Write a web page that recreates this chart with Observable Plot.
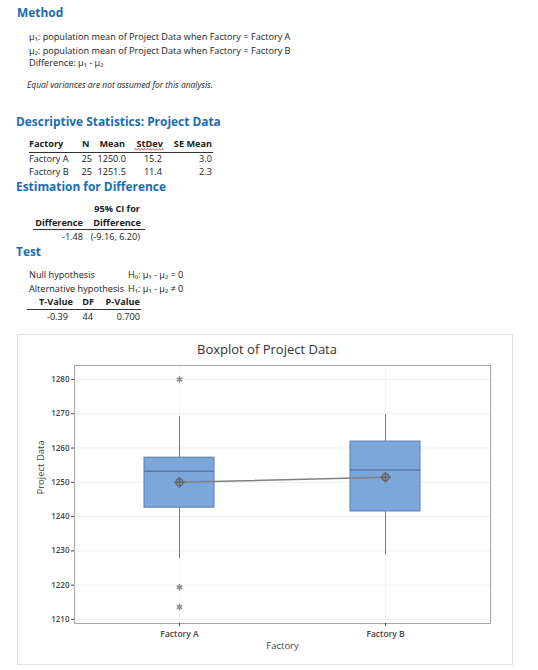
<!DOCTYPE html>
<html><head><meta charset="utf-8">
<script src="https://cdn.jsdelivr.net/npm/d3@7"></script>
<script src="https://cdn.jsdelivr.net/npm/@observablehq/plot@0.6"></script>
<style>
body{margin:0;background:#fff;width:538px;height:670px;position:relative;overflow:hidden;font-family:"Open Sans",sans-serif;color:#222}
.t{position:absolute;white-space:nowrap;line-height:1}
.h{color:#1a6cb4;font-weight:700}
.b{font-weight:700}
.i{font-style:italic}
.rule{position:absolute;height:0;border-top:1px solid #333}
.sq{position:absolute;height:3px;background-image:url("data:image/svg+xml,%3Csvg xmlns='http://www.w3.org/2000/svg' width='3' height='3'%3E%3Cpath d='M0 2.5 L1.5 0.5 L3 2.5' fill='none' stroke='%23e03030' stroke-width='0.8'/%3E%3C/svg%3E");background-repeat:repeat-x}
#panel{position:absolute;left:17px;top:334px;width:496px;height:331px;box-sizing:border-box;border:1px solid #e0e0e0;background:#fff}
#title{height:24px;padding-top:4px;line-height:20px;font-size:13px;text-align:center;color:#333;padding-left:4px}
#chart svg{display:block}
</style></head><body>
<div id="panel"><div id="title">Boxplot of Project Data</div><div id="chart"></div></div>
<script>
// ---- data ----
const methodLines = ["μ₁: population mean of Project Data when Factory = Factory A",
  "μ₂: population mean of Project Data when Factory = Factory B",
  "Difference: μ₁ - μ₂"];
const methodNote = "Equal variances are not assumed for this analysis.";
const descHeader = ["Factory", "N", "Mean", "StDev", "SE Mean"];
const descFactory = ["Factory A", "Factory B"];
const descN = ["25", "25"];
const descMean = ["1250.0", "1251.5"];
const descStDev = ["15.2", "11.4"];
const descSEMean = ["3.0", "2.3"];
const estDifference = "-1.48";
const estCI = "(-9.16, 6.20)";
const hypLabels = ["Null hypothesis", "Alternative hypothesis"];
const hypTexts = ["H₀: μ₁ - μ₂ = 0", "H₁: μ₁ - μ₂ ≠ 0"];
const testHeader = ["T-Value", "DF", "P-Value"];
const testValues = ["-0.39", "44", "0.700"];

const factories = ["Factory A", "Factory B"];
const q1 = [1242.6, 1241.5];
const median = [1253.2, 1253.6];
const q3 = [1257.2, 1261.9];
const whiskerLow = [1227.7, 1228.8];
const whiskerHigh = [1269.2, 1269.7];
const means = [1250.0, 1251.5];
const outlierFactory = ["Factory A", "Factory A", "Factory A"];
const outlierValue = [1280, 1219.4, 1213.6];
const yTicks = [1210, 1220, 1230, 1240, 1250, 1260, 1270, 1280];

// ---- text layout ----
const FONT = '"Open Sans", sans-serif';
const cv = document.createElement("canvas").getContext("2d");
function measure(txt, size, weight, style) {
  cv.font = `${style||"normal"} ${weight||400} ${size}px ${FONT}`;
  return cv.measureText(txt).width;
}
const bodySize = 9 * 262 / measure(methodLines[0], 9);
const headSize = 14 * 205 / measure("Descriptive Statistics: Project Data", 14, 700);
const noteSize = 8 * 186 / measure(methodNote, 8, 400, "italic");

function put(txt, x, y, cls, size, align) {
  const e = document.createElement("div");
  e.className = "t " + (cls || "");
  e.textContent = txt;
  e.style.fontSize = size + "px";
  e.style.top = (y - 0.56 * size) + "px";
  if (align === "right") e.style.right = (538 - x) + "px";
  else e.style.left = x + "px";
  document.body.appendChild(e);
  return e;
}
function rule(x1, x2, y) {
  const e = document.createElement("div");
  e.className = "rule";
  e.style.left = x1 + "px"; e.style.width = (x2 - x1) + "px"; e.style.top = y + "px";
  document.body.appendChild(e);
}
const bs = bodySize;
put("Method", 17, 14, "h", headSize);
methodLines.forEach((l, i) => put(l, 29, [37, 51, 63][i], "", bs));
put(methodNote, 27, 86, "i", noteSize);

put("Descriptive Statistics: Project Data", 16, 123, "h", headSize);
put(descHeader[0], 29, 144, "b", bs);
put(descHeader[1], 82, 144, "b", bs);
put(descHeader[2], 125, 144, "b", bs, "right");
put(descHeader[3], 163, 144, "b", bs, "right");
put(descHeader[4], 212, 144, "b", bs, "right");
const sq = document.createElement("div");
sq.className = "sq";
sq.style.left = "134px"; sq.style.width = "30px"; sq.style.top = "148px";
document.body.appendChild(sq);
rule(29, 213, 152);
descFactory.forEach((f, i) => {
  const y = [159.5, 172][i];
  put(f, 29, y, "", bs);
  put(descN[i], 92, y, "", bs, "right");
  put(descMean[i], 126, y, "", bs, "right");
  put(descStDev[i], 162, y, "", bs, "right");
  put(descSEMean[i], 212, y, "", bs, "right");
});

put("Estimation for Difference", 16, 188, "h", headSize);
put("95% CI for", 140, 209, "b", bs, "right");
put("Difference", 83, 223, "b", bs, "right");
put("Difference", 141, 223, "b", bs, "right");
rule(33, 145, 229);
put(estDifference, 83, 237, "", bs, "right");
put(estCI, 140, 237, "", bs, "right");

put("Test", 16, 253, "h", headSize);
hypLabels.forEach((l, i) => {
  const y = [275, 289][i];
  put(l, 29, y, "", bs);
  put(hypTexts[i], 128, y, "", bs);
});
put(testHeader[0], 73, 302, "b", bs, "right");
put(testHeader[1], 94, 302, "b", bs, "right");
put(testHeader[2], 140, 302, "b", bs, "right");
rule(27, 141, 309);
put(testValues[0], 68, 317, "", bs, "right");
put(testValues[1], 93, 317, "", bs, "right");
put(testValues[2], 140, 317, "", bs, "right");

// ---- chart ----
const boxes = factories.map((f, i) => ({factory: f, q1: q1[i], median: median[i], q3: q3[i],
  lo: whiskerLow[i], hi: whiskerHigh[i], mean: means[i]}));
const outliers = outlierFactory.map((f, i) => ({factory: f, value: outlierValue[i]}));

const chart = Plot.plot({
  width: 494, height: 300,
  marginTop: 2, marginLeft: 56, marginRight: 22, marginBottom: 40,
  style: {fontFamily: FONT, fontSize: "8px", color: "#333", background: "#fff", overflow: "visible"},
  x: {type: "band", domain: factories, paddingInner: 0.662, paddingOuter: 0.338, label: null},
  y: {domain: [1208.8, 1284.1], label: null},
  marks: [
    Plot.gridY(yTicks, {stroke: "#eeeeee", strokeOpacity: 1}),
    Plot.gridX(factories, {stroke: "#f2f2f2", strokeOpacity: 1}),
    Plot.ruleX(boxes, {x: "factory", y1: "lo", y2: "q1", stroke: "#7a7a7a"}),
    Plot.ruleX(boxes, {x: "factory", y1: "q3", y2: "hi", stroke: "#7a7a7a"}),
    Plot.barY(boxes, {x: "factory", y1: "q1", y2: "q3", fill: "#7ba7db", stroke: "#5b7cad"}),
    Plot.tickY(boxes, {x: "factory", y: "median", stroke: "#587aa8", strokeWidth: 1.5}),
    Plot.line(boxes, {x: "factory", y: "mean", stroke: "#808080"}),
    Plot.dot(boxes, {x: "factory", y: "mean", r: 3.5, stroke: "#666", fill: "none"}),
    Plot.dot(boxes, {x: "factory", y: "mean", r: 3.5, symbol: "plus", stroke: "#666"}),
    Plot.dot(outliers, {x: "factory", y: "value", symbol: "asterisk", r: 3, stroke: "#8a8a8a"}),
    Plot.frame({stroke: "#a8a8a8"}),
    Plot.axisY(yTicks, {tickSize: 3, tickPadding: 2, tickFormat: d3.format("d"), label: null, fontSize: 8, fontWeight: 600, color: "#444"}),
    Plot.axisX({tickSize: 3, tickPadding: 4, label: null, fontSize: 8.5, fontWeight: 600, color: "#444"}),
    Plot.text(["Project Data"], {frameAnchor: "left", dx: -34, rotate: -90, fontSize: 9.5, fill: "#444"}),
    Plot.text(["Factory"], {frameAnchor: "bottom", dy: 25, fontSize: 9.5, fill: "#444"})
  ]
});
document.getElementById("chart").appendChild(chart);
</script>
</body></html>
